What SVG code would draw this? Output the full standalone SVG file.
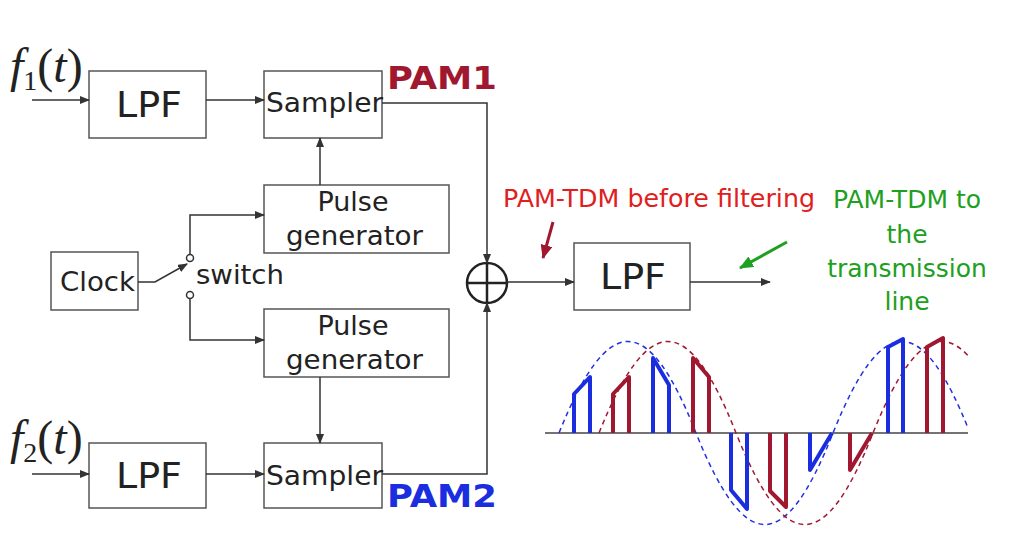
<svg xmlns="http://www.w3.org/2000/svg" width="1024" height="552" viewBox="0 0 1024 552">
<style>
.b{fill:#fff;stroke:#555;stroke-width:1.5}
.t{font-family:"DejaVu Sans",sans-serif;fill:#222}
.c{fill:none;stroke:#333;stroke-width:1.5}
.m{font-family:"Liberation Serif",serif;font-style:italic;fill:#222}
</style>
<defs>
<marker id="a" markerWidth="10" markerHeight="8" refX="9" refY="4" orient="auto" markerUnits="userSpaceOnUse"><path d="M0,0L10,4L0,8z" fill="#333"/></marker>
<marker id="ar" markerWidth="14" markerHeight="12" refX="13" refY="6" orient="auto" markerUnits="userSpaceOnUse"><path d="M0,0L14,6L0,12z" fill="#a01830"/></marker>
<marker id="ag" markerWidth="14" markerHeight="12" refX="13" refY="6" orient="auto" markerUnits="userSpaceOnUse"><path d="M0,0L14,6L0,12z" fill="#20a020"/></marker>
<clipPath id="cl"><rect x="540" y="300" width="428" height="240"/></clipPath>
</defs>
<rect width="1024" height="552" fill="#fff"/>
<text class="m" x="10" y="82" font-size="48">f<tspan font-size="28" font-style="normal" dy="8">1</tspan><tspan dy="-8" font-style="normal">(</tspan>t<tspan font-style="normal">)</tspan></text>
<text class="m" x="10" y="454" font-size="48">f<tspan font-size="28" font-style="normal" dy="8">2</tspan><tspan dy="-8" font-style="normal">(</tspan>t<tspan font-style="normal">)</tspan></text>
<g id="lpf1"><rect class="b" x="89" y="71" width="117" height="67"/><text class="t" x="116" y="117" font-size="36" textLength="66" lengthAdjust="spacingAndGlyphs">LPF</text></g>
<g id="sampler1"><rect class="b" x="264" y="71" width="118" height="67"/><text class="t" x="266" y="112" font-size="26" textLength="117" lengthAdjust="spacingAndGlyphs">Sampler</text></g>
<g id="pulse1"><rect class="b" x="264" y="185" width="185" height="68"/><text class="t" x="353" y="211" font-size="27" text-anchor="middle">Pulse</text><text class="t" x="286" y="245" font-size="27" textLength="137" lengthAdjust="spacingAndGlyphs">generator</text></g>
<g id="clock"><rect class="b" x="51" y="252" width="87" height="58"/><text class="t" x="60" y="291" font-size="26" textLength="75" lengthAdjust="spacingAndGlyphs">Clock</text></g>
<g id="switch"><circle cx="190" cy="258" r="3.5" fill="#fff" stroke="#333" stroke-width="1.5"/><circle cx="190" cy="295" r="3.5" fill="#fff" stroke="#333" stroke-width="1.5"/><text class="t" x="196" y="284" font-size="27" textLength="88" lengthAdjust="spacingAndGlyphs">switch</text></g>
<g id="pulse2"><rect class="b" x="264" y="309" width="185" height="68"/><text class="t" x="353" y="335" font-size="27" text-anchor="middle">Pulse</text><text class="t" x="286" y="369" font-size="27" textLength="137" lengthAdjust="spacingAndGlyphs">generator</text></g>
<g id="lpf2"><rect class="b" x="89" y="443" width="117" height="65"/><text class="t" x="116" y="488" font-size="36" textLength="66" lengthAdjust="spacingAndGlyphs">LPF</text></g>
<g id="sampler2"><rect class="b" x="264" y="443" width="118" height="65"/><text class="t" x="266" y="485" font-size="26" textLength="117" lengthAdjust="spacingAndGlyphs">Sampler</text></g>
<g id="sum"><circle cx="487" cy="283" r="20" fill="#fff" stroke="#222" stroke-width="2.5"/><path d="M467,283H507M487,263V303" stroke="#222" stroke-width="2.5"/></g>
<g id="lpf3"><rect class="b" x="574" y="243" width="116" height="67"/><text class="t" x="600" y="289" font-size="36" textLength="66" lengthAdjust="spacingAndGlyphs">LPF</text></g>
<text x="387" y="89" font-family="DejaVu Sans,sans-serif" font-weight="bold" font-size="32" fill="#a01830" textLength="110" lengthAdjust="spacingAndGlyphs">PAM1</text>
<text x="387" y="507" font-family="DejaVu Sans,sans-serif" font-weight="bold" font-size="32" fill="#1a2ee0" textLength="110" lengthAdjust="spacingAndGlyphs">PAM2</text>
<text x="503" y="207" font-family="DejaVu Sans,sans-serif" font-size="25" fill="#e02020" textLength="312" lengthAdjust="spacingAndGlyphs">PAM-TDM before filtering</text>
<g font-family="DejaVu Sans,sans-serif" font-size="25" fill="#20a020" text-anchor="middle"><text x="907" y="208">PAM-TDM to</text><text x="907" y="243">the</text><text x="907" y="277">transmission</text><text x="907" y="310">line</text></g>
<g id="connectors">
<path class="c" d="M32,100H89" marker-end="url(#a)"/>
<path class="c" d="M206,100H264" marker-end="url(#a)"/>
<path class="c" d="M32,474H89" marker-end="url(#a)"/>
<path class="c" d="M206,474H264" marker-end="url(#a)"/>
<path class="c" d="M320,185V138" marker-end="url(#a)"/>
<path class="c" d="M320,377V443" marker-end="url(#a)"/>
<path class="c" d="M138,282H155L187,264" marker-end="url(#a)"/>
<path class="c" d="M190,254V215H264" marker-end="url(#a)"/>
<path class="c" d="M190,299V340H264" marker-end="url(#a)"/>
<path class="c" d="M382,103H487V263" marker-end="url(#a)"/>
<path class="c" d="M382,474H487V303" marker-end="url(#a)"/>
<path class="c" d="M507,282H574" marker-end="url(#a)"/>
<path class="c" d="M690,282H770" marker-end="url(#a)"/>
<path d="M553,222L543,258" stroke="#a01830" stroke-width="3" marker-end="url(#ar)"/>
<path d="M787,242L740,268" stroke="#20a020" stroke-width="3" marker-end="url(#ag)"/>
</g>
<g id="waveform">
<path d="M545,433H968" stroke="#444" stroke-width="1.5"/>
<g clip-path="url(#cl)" fill="none" stroke-dasharray="5,4" stroke-width="1.5">
<path d="M559,433C608,311 648,311 696,433C745,555 785,555 833,433C882,311 922,311 970,433" stroke="#2030e0"/>
<path d="M599,433C648,311 688,311 736,433C785,555 825,555 873,433C922,311 962,311 1010,433" stroke="#a01830"/>
</g>
<g fill="none" stroke-width="4" stroke-linejoin="round">
<g stroke="#1a2ee0"><path d="M574,433V394L590,377V433"/><path d="M653,433V358L669,385V433"/><path d="M731,433V490L747,509V433"/><path d="M810,433V470L832,433"/><path d="M888,433V347L903,339V433"/></g>
<g stroke="#a01830"><path d="M613,433V394L629,377V433"/><path d="M693,433V358L709,377V433"/><path d="M770,433V491L786,507V433"/><path d="M850,433V470L872,433"/><path d="M927,433V347L943,338V433"/></g>
</g>
</g>
</svg>
